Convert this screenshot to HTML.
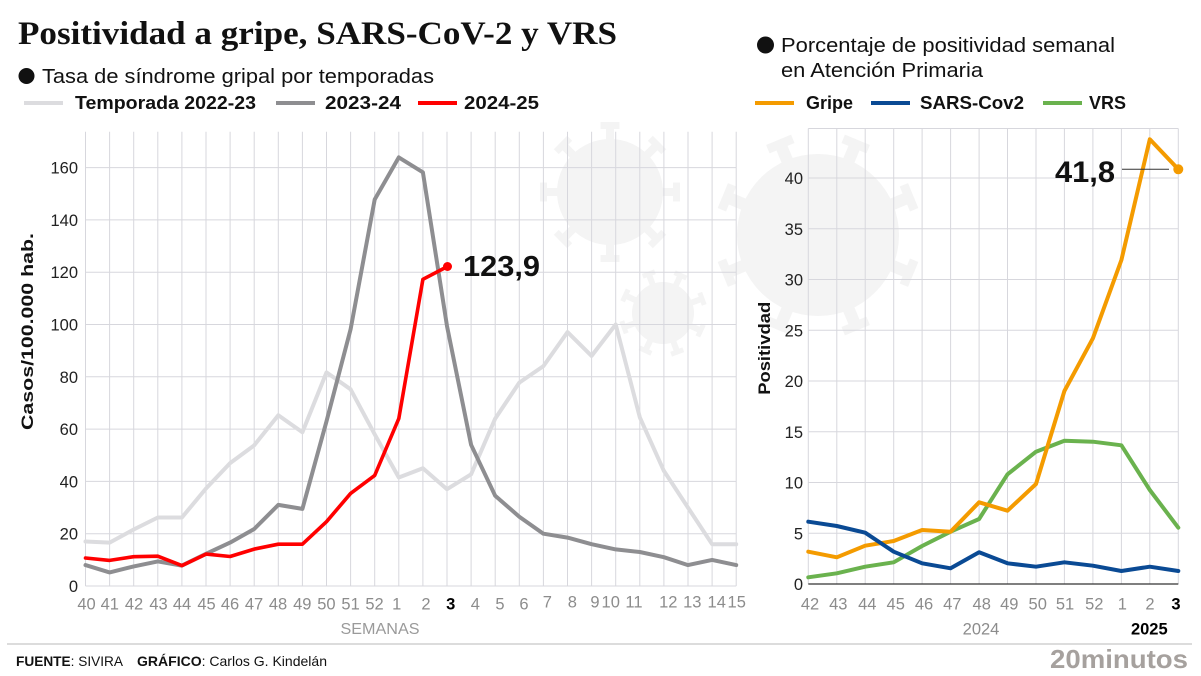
<!DOCTYPE html>
<html><head><meta charset="utf-8"><style>
html,body{margin:0;padding:0;background:#fff;}
svg{display:block;}
text{font-family:"Liberation Sans",Arial,sans-serif;}
</style></head><body>
<svg width="1201" height="676" viewBox="0 0 1201 676" xmlns="http://www.w3.org/2000/svg">
<rect width="1201" height="676" fill="#fff"/>

<!-- virus backgrounds -->
<g fill="#f4f4f4">
  <g transform="translate(818,235)">
    <circle r="81"/>
    <g transform="rotate(22.5)"><rect x="74" y="-6" width="22" height="12"/><rect x="94" y="-13.5" width="9" height="27"/></g>
    <g transform="rotate(67.5)"><rect x="74" y="-6" width="22" height="12"/><rect x="94" y="-13.5" width="9" height="27"/></g>
    <g transform="rotate(112.5)"><rect x="74" y="-6" width="22" height="12"/><rect x="94" y="-13.5" width="9" height="27"/></g>
    <g transform="rotate(157.5)"><rect x="74" y="-6" width="22" height="12"/><rect x="94" y="-13.5" width="9" height="27"/></g>
    <g transform="rotate(202.5)"><rect x="74" y="-6" width="22" height="12"/><rect x="94" y="-13.5" width="9" height="27"/></g>
    <g transform="rotate(247.5)"><rect x="74" y="-6" width="22" height="12"/><rect x="94" y="-13.5" width="9" height="27"/></g>
    <g transform="rotate(292.5)"><rect x="74" y="-6" width="22" height="12"/><rect x="94" y="-13.5" width="9" height="27"/></g>
    <g transform="rotate(337.5)"><rect x="74" y="-6" width="22" height="12"/><rect x="94" y="-13.5" width="9" height="27"/></g>
  </g>
  <g transform="translate(610,192)">
    <circle r="53"/>
    <g transform="rotate(0)"><rect x="48" y="-4" width="17" height="8"/><rect x="63" y="-9.5" width="7" height="19"/></g>
    <g transform="rotate(45)"><rect x="48" y="-4" width="17" height="8"/><rect x="63" y="-9.5" width="7" height="19"/></g>
    <g transform="rotate(90)"><rect x="48" y="-4" width="17" height="8"/><rect x="63" y="-9.5" width="7" height="19"/></g>
    <g transform="rotate(135)"><rect x="48" y="-4" width="17" height="8"/><rect x="63" y="-9.5" width="7" height="19"/></g>
    <g transform="rotate(180)"><rect x="48" y="-4" width="17" height="8"/><rect x="63" y="-9.5" width="7" height="19"/></g>
    <g transform="rotate(225)"><rect x="48" y="-4" width="17" height="8"/><rect x="63" y="-9.5" width="7" height="19"/></g>
    <g transform="rotate(270)"><rect x="48" y="-4" width="17" height="8"/><rect x="63" y="-9.5" width="7" height="19"/></g>
    <g transform="rotate(315)"><rect x="48" y="-4" width="17" height="8"/><rect x="63" y="-9.5" width="7" height="19"/></g>
  </g>
  <g transform="translate(663,313)">
    <circle r="31"/>
    <g transform="rotate(250)"><rect x="27" y="-3" width="13" height="6"/><rect x="39" y="-6.5" width="5" height="13"/></g>
    <g transform="rotate(295)"><rect x="27" y="-3" width="13" height="6"/><rect x="39" y="-6.5" width="5" height="13"/></g>
    <g transform="rotate(340)"><rect x="27" y="-3" width="13" height="6"/><rect x="39" y="-6.5" width="5" height="13"/></g>
    <g transform="rotate(25)"><rect x="27" y="-3" width="13" height="6"/><rect x="39" y="-6.5" width="5" height="13"/></g>
    <g transform="rotate(70)"><rect x="27" y="-3" width="13" height="6"/><rect x="39" y="-6.5" width="5" height="13"/></g>
    <g transform="rotate(115)"><rect x="27" y="-3" width="13" height="6"/><rect x="39" y="-6.5" width="5" height="13"/></g>
    <g transform="rotate(160)"><rect x="27" y="-3" width="13" height="6"/><rect x="39" y="-6.5" width="5" height="13"/></g>
    <g transform="rotate(205)"><rect x="27" y="-3" width="13" height="6"/><rect x="39" y="-6.5" width="5" height="13"/></g>
  </g>
</g>

<!-- Title -->
<text x="18" y="44" font-weight="bold" font-size="33" fill="#111" textLength="599" lengthAdjust="spacingAndGlyphs" style="font-family:'Liberation Serif',serif">Positividad a gripe, SARS-CoV-2 y VRS</text>

<!-- Left header -->
<circle cx="26.5" cy="76" r="8" fill="#111"/>
<text x="42" y="83" font-size="20" fill="#111" textLength="392" lengthAdjust="spacingAndGlyphs">Tasa de síndrome gripal por temporadas</text>
<line x1="24" y1="103" x2="63" y2="103" stroke="#dcdcdf" stroke-width="4"/>
<text x="75" y="109" font-size="18" font-weight="bold" fill="#111" textLength="181" lengthAdjust="spacingAndGlyphs">Temporada 2022-23</text>
<line x1="276" y1="103" x2="315" y2="103" stroke="#8e8e91" stroke-width="4"/>
<text x="325" y="109" font-size="18" font-weight="bold" fill="#111" textLength="76" lengthAdjust="spacingAndGlyphs">2023-24</text>
<line x1="418" y1="103" x2="457" y2="103" stroke="#ff0000" stroke-width="4"/>
<text x="464" y="109" font-size="18" font-weight="bold" fill="#111" textLength="75" lengthAdjust="spacingAndGlyphs">2024-25</text>

<!-- Right header -->
<circle cx="765.5" cy="45" r="8.5" fill="#111"/>
<text x="781" y="52" font-size="20" fill="#111" textLength="334" lengthAdjust="spacingAndGlyphs">Porcentaje de positividad semanal</text>
<text x="781" y="77" font-size="20" fill="#111" textLength="202" lengthAdjust="spacingAndGlyphs">en Atención Primaria</text>
<line x1="755" y1="103" x2="794" y2="103" stroke="#f49b00" stroke-width="4"/>
<text x="806" y="109" font-size="18" font-weight="bold" fill="#111" textLength="47" lengthAdjust="spacingAndGlyphs">Gripe</text>
<line x1="871" y1="103" x2="910" y2="103" stroke="#0a4a94" stroke-width="4"/>
<text x="920" y="109" font-size="18" font-weight="bold" fill="#111" textLength="104" lengthAdjust="spacingAndGlyphs">SARS-Cov2</text>
<line x1="1043" y1="103" x2="1082" y2="103" stroke="#6ab24e" stroke-width="4"/>
<text x="1089" y="109" font-size="18" font-weight="bold" fill="#111" textLength="37" lengthAdjust="spacingAndGlyphs">VRS</text>

<!-- Left grid -->
<g stroke="#d7d7dd" stroke-width="1">
  <line x1="85.5" y1="131.7" x2="85.5" y2="586"/><line x1="109.6" y1="131.7" x2="109.6" y2="586"/><line x1="133.7" y1="131.7" x2="133.7" y2="586"/><line x1="157.8" y1="131.7" x2="157.8" y2="586"/><line x1="181.9" y1="131.7" x2="181.9" y2="586"/><line x1="206" y1="131.7" x2="206" y2="586"/><line x1="230.1" y1="131.7" x2="230.1" y2="586"/><line x1="254.2" y1="131.7" x2="254.2" y2="586"/><line x1="278.3" y1="131.7" x2="278.3" y2="586"/><line x1="302.4" y1="131.7" x2="302.4" y2="586"/><line x1="326.5" y1="131.7" x2="326.5" y2="586"/><line x1="350.6" y1="131.7" x2="350.6" y2="586"/><line x1="374.7" y1="131.7" x2="374.7" y2="586"/><line x1="398.8" y1="131.7" x2="398.8" y2="586"/><line x1="422.9" y1="131.7" x2="422.9" y2="586"/><line x1="447" y1="131.7" x2="447" y2="586"/><line x1="471.1" y1="131.7" x2="471.1" y2="586"/><line x1="495.2" y1="131.7" x2="495.2" y2="586"/><line x1="519.3" y1="131.7" x2="519.3" y2="586"/><line x1="543.4" y1="131.7" x2="543.4" y2="586"/><line x1="567.5" y1="131.7" x2="567.5" y2="586"/><line x1="591.6" y1="131.7" x2="591.6" y2="586"/><line x1="615.7" y1="131.7" x2="615.7" y2="586"/><line x1="639.8" y1="131.7" x2="639.8" y2="586"/><line x1="663.9" y1="131.7" x2="663.9" y2="586"/><line x1="688" y1="131.7" x2="688" y2="586"/><line x1="712.1" y1="131.7" x2="712.1" y2="586"/><line x1="736.2" y1="131.7" x2="736.2" y2="586"/>
  <line x1="85.5" y1="586" x2="736.2" y2="586"/><line x1="85.5" y1="533.7" x2="736.2" y2="533.7"/><line x1="85.5" y1="481.4" x2="736.2" y2="481.4"/><line x1="85.5" y1="429.1" x2="736.2" y2="429.1"/><line x1="85.5" y1="376.8" x2="736.2" y2="376.8"/><line x1="85.5" y1="324.5" x2="736.2" y2="324.5"/><line x1="85.5" y1="272.2" x2="736.2" y2="272.2"/><line x1="85.5" y1="219.9" x2="736.2" y2="219.9"/><line x1="85.5" y1="167.6" x2="736.2" y2="167.6"/>
</g>

<!-- Left y labels -->
<g font-size="16.5" fill="#222" text-anchor="end">
  <text x="78" y="592">0</text><text x="78" y="539.7">20</text><text x="78" y="487.4">40</text><text x="78" y="435.1">60</text><text x="78" y="382.8">80</text><text x="78" y="330.5">100</text><text x="78" y="278.2">120</text><text x="78" y="225.9">140</text><text x="78" y="173.6">160</text>
</g>
<text transform="translate(33,331.5) rotate(-90)" text-anchor="middle" font-size="17" font-weight="bold" fill="#111" textLength="197" lengthAdjust="spacingAndGlyphs">Casos/100.000 hab.</text>

<!-- Left x labels -->
<g font-size="16.5" fill="#8c8c8c" text-anchor="middle">
  <text x="86.5" y="609.5">40</text><text x="109.8" y="609.5">41</text><text x="134" y="609.5">42</text><text x="158.5" y="609.5">43</text><text x="182" y="609.5">44</text><text x="206.5" y="609.5">45</text><text x="230" y="609.5">46</text><text x="254" y="609.5">47</text><text x="278" y="609.5">48</text><text x="302.3" y="609.5">49</text><text x="326.4" y="609.5">50</text><text x="350.6" y="609.5">51</text><text x="374.5" y="609.5">52</text><text x="396.7" y="609.5">1</text><text x="426" y="609.5">2</text>
  <text x="450.7" y="609.5" fill="#000" font-weight="bold">3</text>
  <text x="475.3" y="609.5">4</text><text x="500" y="609.5">5</text><text x="524" y="609.5">6</text><text x="547.3" y="607.5">7</text><text x="572.3" y="607.5">8</text><text x="595" y="607.5">9</text><text x="610.7" y="607.5">10</text><text x="634" y="607.5">11</text><text x="668.3" y="607.5">12</text><text x="692.3" y="607.5">13</text><text x="716.7" y="607.5">14</text><text x="736.7" y="607.5">15</text>
</g>
<text x="380" y="634" text-anchor="middle" font-size="16" fill="#9a9a9a" textLength="79" lengthAdjust="spacingAndGlyphs">SEMANAS</text>

<!-- Left series -->
<g fill="none" stroke-width="4" stroke-linejoin="round" stroke-linecap="round">
  <polyline stroke="#dcdcdf" points="85.5,541.5 109.6,542.6 133.7,529.5 157.8,517.5 181.9,517.5 206,488.5 230.1,463.1 254.2,445.3 278.3,415.2 302.4,432.2 326.5,372.4 350.6,389.3 374.7,434.3 398.8,477.5 422.9,468.3 447,489.2 471.1,474.3 495.2,418.6 519.3,382.6 543.4,366.1 567.5,332.1 591.6,355.9 615.7,324.5 639.8,417.3 663.9,470.9 688,507.6 712.1,544.2 736.2,544.2"/>
  <polyline stroke="#8e8e91" points="85.5,565.1 109.6,572.4 133.7,566.4 157.8,561.4 181.9,565.6 206,553.8 230.1,542.6 254.2,529 278.3,504.9 302.4,508.9 326.5,421.3 350.6,329.2 374.7,199.5 398.8,157.4 422.9,172.3 447,326.1 471.1,444.8 495.2,495.8 519.3,516.7 543.4,533.7 567.5,537.6 591.6,544.2 615.7,549.4 639.8,552 663.9,557.2 688,565.1 712.1,559.9 736.2,565.1"/>
  <polyline stroke="#ff0000" stroke-width="3.6" points="85.5,558 109.6,560.4 133.7,556.7 157.8,556.2 181.9,565.6 206,554.1 230.1,556.5 254.2,549.1 278.3,544.2 302.4,544.2 326.5,521.7 350.6,493.4 374.7,475.4 398.8,418.6 422.9,279.3 447.5,266.5"/>
</g>
<circle cx="447.5" cy="266.5" r="4.5" fill="#ff0000"/>
<text x="463" y="276" font-size="29" font-weight="bold" fill="#111" textLength="77" lengthAdjust="spacingAndGlyphs">123,9</text>

<!-- Right grid -->
<g stroke="#d7d7dd" stroke-width="1">
  <line x1="808.3" y1="128.5" x2="808.3" y2="584"/><line x1="836.8" y1="128.5" x2="836.8" y2="584"/><line x1="865.2" y1="128.5" x2="865.2" y2="584"/><line x1="893.7" y1="128.5" x2="893.7" y2="584"/><line x1="922.1" y1="128.5" x2="922.1" y2="584"/><line x1="950.6" y1="128.5" x2="950.6" y2="584"/><line x1="979.1" y1="128.5" x2="979.1" y2="584"/><line x1="1007.5" y1="128.5" x2="1007.5" y2="584"/><line x1="1036" y1="128.5" x2="1036" y2="584"/><line x1="1064.4" y1="128.5" x2="1064.4" y2="584"/><line x1="1092.9" y1="128.5" x2="1092.9" y2="584"/><line x1="1121.4" y1="128.5" x2="1121.4" y2="584"/><line x1="1149.8" y1="128.5" x2="1149.8" y2="584"/><line x1="1178.3" y1="128.5" x2="1178.3" y2="584"/>
  <line x1="808.3" y1="533.25" x2="1178.3" y2="533.25"/><line x1="808.3" y1="482.5" x2="1178.3" y2="482.5"/><line x1="808.3" y1="431.75" x2="1178.3" y2="431.75"/><line x1="808.3" y1="381" x2="1178.3" y2="381"/><line x1="808.3" y1="330.25" x2="1178.3" y2="330.25"/><line x1="808.3" y1="279.5" x2="1178.3" y2="279.5"/><line x1="808.3" y1="228.75" x2="1178.3" y2="228.75"/><line x1="808.3" y1="178" x2="1178.3" y2="178"/><line x1="808.3" y1="128.5" x2="1178.3" y2="128.5"/>
</g>
<line x1="808.3" y1="584" x2="1178.3" y2="584" stroke="#333" stroke-width="1.3"/>

<!-- Right y labels -->
<g font-size="16.5" fill="#222" text-anchor="end">
  <text x="803" y="590">0</text><text x="803" y="539.25">5</text><text x="803" y="488.5">10</text><text x="803" y="437.75">15</text><text x="803" y="387">20</text><text x="803" y="336.25">25</text><text x="803" y="285.5">30</text><text x="803" y="234.75">35</text><text x="803" y="184">40</text>
</g>
<text transform="translate(770,348.3) rotate(-90)" text-anchor="middle" font-size="17" font-weight="bold" fill="#111" textLength="93" lengthAdjust="spacingAndGlyphs">Positivdad</text>

<!-- Right x labels -->
<g font-size="16.5" fill="#8c8c8c" text-anchor="middle">
  <text x="810" y="609.3">42</text><text x="838.3" y="609.3">43</text><text x="867.3" y="609.3">44</text><text x="895.7" y="609.3">45</text><text x="924" y="609.3">46</text><text x="952.3" y="609.3">47</text><text x="981.7" y="609.3">48</text><text x="1009.3" y="609.3">49</text><text x="1037.7" y="609.3">50</text><text x="1065" y="609.3">51</text><text x="1094.3" y="609.3">52</text><text x="1122.3" y="609.3">1</text><text x="1150" y="609.3">2</text>
  <text x="1176" y="609.3" fill="#000" font-weight="bold">3</text>
  <text x="981" y="634.3">2024</text>
  <text x="1149.3" y="634.3" fill="#000" font-weight="bold">2025</text>
</g>

<!-- Right series -->
<g fill="none" stroke-width="4" stroke-linejoin="round" stroke-linecap="round">
  <polyline stroke="#6ab24e" points="808.3,577.3 836.8,573.3 865.2,566.7 893.7,562.3 922.1,546 950.6,531.7 979.1,519 1007.5,474.3 1036,451.7 1064.4,440.7 1092.9,441.7 1121.4,445.3 1149.8,490 1178.3,527.7"/>
  <polyline stroke="#f49b00" points="808.3,551.7 836.8,557.3 865.2,545.7 893.7,541 922.1,530 950.6,531.7 979.1,502.3 1007.5,510.7 1036,484 1064.4,391 1092.9,338.3 1121.4,260 1149.8,139.3 1178.3,169.3"/>
  <polyline stroke="#0a4a94" points="808.3,521.7 836.8,526 865.2,532.7 893.7,551.7 922.1,563.3 950.6,568.3 979.1,552.3 1007.5,563.3 1036,566.7 1064.4,562.3 1092.9,565.7 1121.4,571 1149.8,566.7 1178.3,571"/>
</g>
<circle cx="1178.3" cy="169.3" r="5" fill="#f49b00"/>
<line x1="1122" y1="169.3" x2="1169" y2="169.3" stroke="#333" stroke-width="1"/>
<text x="1055" y="182" font-size="30" font-weight="bold" fill="#111" textLength="60" lengthAdjust="spacingAndGlyphs">41,8</text>

<!-- Footer -->
<line x1="7" y1="644" x2="1192" y2="644" stroke="#d0d0d0" stroke-width="1.5"/>
<text x="16" y="666" font-size="14" fill="#111" textLength="107" lengthAdjust="spacingAndGlyphs"><tspan font-weight="bold">FUENTE</tspan>: SIVIRA</text>
<text x="137" y="666" font-size="14" fill="#111" textLength="190" lengthAdjust="spacingAndGlyphs"><tspan font-weight="bold">GRÁFICO</tspan>: Carlos G. Kindelán</text>
<text x="1050" y="668" font-size="26" font-weight="bold" fill="#a6a19e" textLength="138" lengthAdjust="spacingAndGlyphs">20minutos</text>
</svg>
</body></html>
